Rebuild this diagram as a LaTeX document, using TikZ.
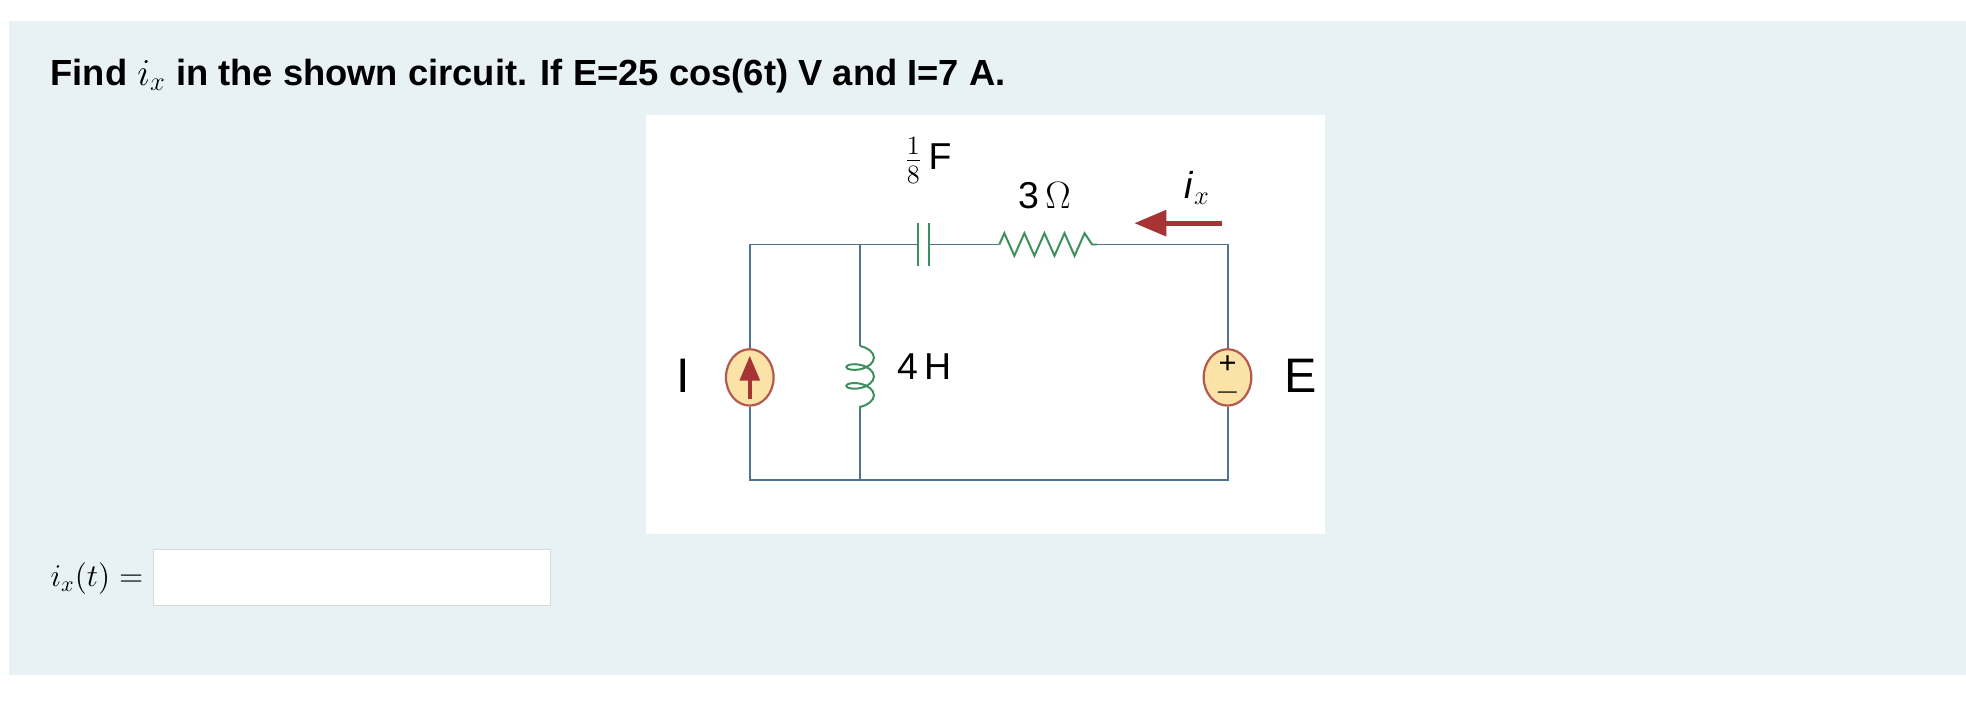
\documentclass[tikz,border=0pt]{standalone}
\usepackage{fontspec}
\setmainfont{Liberation Sans}
\usetikzlibrary{shapes,arrows,positioning,decorations.pathmorphing}
\definecolor{panel}{HTML}{E8F1F4}
\definecolor{wire}{HTML}{4F7391}
\definecolor{elem}{HTML}{3D8F5E}
\definecolor{redarr}{HTML}{A63434}
\definecolor{srcfill}{HTML}{FBE3A8}
\definecolor{srcline}{HTML}{B35A4E}
\tikzstyle{wireline} = [draw=wire, line width=0.9pt]
\tikzstyle{element}  = [draw=elem, line width=0.9pt]
\tikzstyle{source}   = [ellipse, draw=srcline, fill=srcfill, line width=1pt, minimum width=0.76cm, minimum height=0.9cm, inner sep=0pt]
\tikzstyle{label}    = [font=\fontsize{17}{17}\selectfont, inner sep=0pt]

\begin{document}
\begin{tikzpicture}[x=0.02cm, y=-0.02cm]
        \useasboundingbox (0,0) rectangle (1568,571);
        \fill [white] (0,0) rectangle (1568,571);
        \fill [panel] (7,17) rectangle (1568,538);
        \node [anchor=base west, inner sep=0pt, font=\fontsize{16.5}{18}\selectfont\bfseries] (title) at (40,68)
          {Find $i_x$ in the shown circuit. If E=25 cos(6t) V and I=7 A.};
        \fill [white] (515,92) rectangle (1057,426);

        % corners and junctions
        \coordinate (tl) at (598,195);
        \coordinate (tm) at (686,195);
        \coordinate (tr) at (979,195);
        \coordinate (bl) at (598,383);
        \coordinate (bm) at (686,383);
        \coordinate (br) at (979,383);
        \coordinate (capl) at (732,195);
        \coordinate (capr) at (741,195);
        \coordinate (resl) at (797,195);
        \coordinate (resr) at (875,195);
        \coordinate (indt) at (686,276);
        \coordinate (indb) at (686,328);

        \node [source] (isrc) at (598,301) {};
        \node [source] (vsrc) at (979,301) {};
        \draw [redarr, line width=1.6pt, -triangle 45] (598,318) -- (598,284);
        \node [font=\fontsize{14}{14}\selectfont, inner sep=0pt] (plus) at (979,291) {+};
        \node [font=\fontsize{14}{14}\selectfont, inner sep=0pt] (minus) at (979,313) {$-$};

        \path [wireline] (isrc) -- (tl) -- (capl);
        \path [wireline] (capr) -- (resl);
        \path [wireline] (resr) -- (tr) -- (vsrc);
        \path [wireline] (isrc) -- (bl) -- (br) -- (vsrc);
        \path [wireline] (tm) -- (indt);
        \path [wireline] (indb) -- (bm);

        % capacitor
        \draw [element] (732,178) -- (732,212);
        \draw [element] (741,178) -- (741,212);
        % resistor
        \draw [element] (resl) -- (801,186) -- (809,204) -- (817,186) -- (825,204) -- (833,186)
          -- (841,204) -- (849,186) -- (857,204) -- (865,186) -- (871,195) -- (resr);
        % inductor
        \draw [element, decorate, decoration={coil, aspect=0.5, segment length=0.3cm, amplitude=0.22cm}]
          (indt) -- (indb);
        \draw [redarr, line width=2.4pt, -triangle 45] (975,178) -- (905,178);

        \node [label] (capval) at (740,128) {$\frac{1}{8}$\,F};
        \node [label] (resval) at (833,156) {3\,$\Omega$};
        \node [label] (ixlab) at (955,150) {\textit{i}$_x$};
        \node [label] (indval) at (737,292) {4\,H};
        \node [label, font=\fontsize{22}{22}\selectfont] (ilab) at (545,300) {I};
        \node [label, font=\fontsize{22}{22}\selectfont] (elab) at (1037,300) {E};

        % answer field
        \node [anchor=base west, inner sep=0pt, font=\fontsize{14}{14}\selectfont] (ans) at (40,468) {$i_x(t)=$};
        \draw [draw=black!15, fill=white] (122,438) rectangle (439,483);
      \end{tikzpicture}
\end{document}
